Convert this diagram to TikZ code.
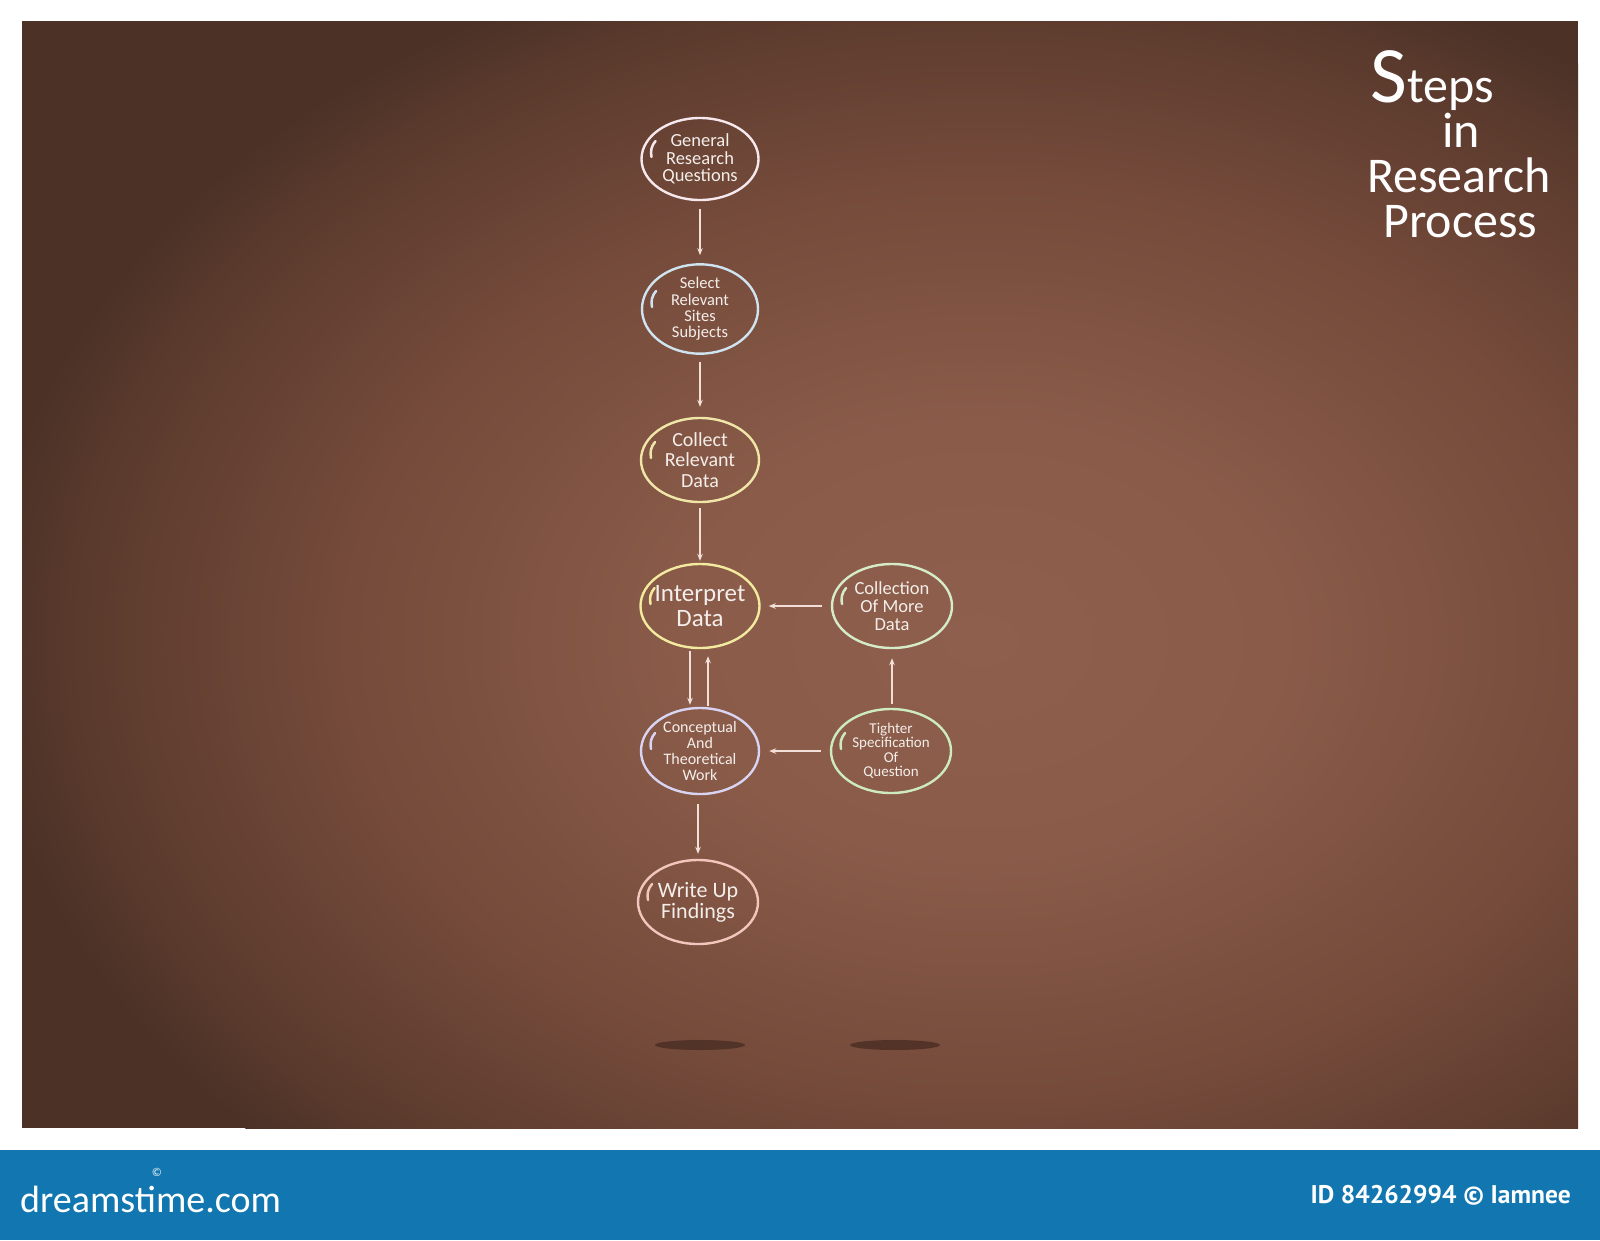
\documentclass[tikz,border=0pt]{standalone}
\usepackage{fontspec}
\setmainfont{Carlito}
\newfontfamily\footfont{PT Sans}
\usetikzlibrary{shapes.geometric,arrows.meta}
\definecolor{bcA}{HTML}{8E5F4C}
\definecolor{bcA2}{HTML}{8A5B49}
\definecolor{bcB}{HTML}{744A3A}
\definecolor{bcB2}{HTML}{5A3A2D}
\definecolor{bcC}{HTML}{4B3126}
\definecolor{txt}{HTML}{F4EEEA}
\definecolor{arrc}{HTML}{F2E0D8}
\definecolor{cGRQ}{HTML}{F6E8EC}
\definecolor{cSEL}{HTML}{CFE4F0}
\definecolor{cCOL}{HTML}{EFE6A8}
\definecolor{cINT}{HTML}{F2EA9E}
\definecolor{cMORE}{HTML}{D6ECC8}
\definecolor{cCON}{HTML}{D8D4F2}
\definecolor{cTIG}{HTML}{CDEBBE}
\definecolor{cWRI}{HTML}{F2C6BC}
\definecolor{footblue}{HTML}{1277B0}
\definecolor{shad}{HTML}{4A2D23}
\pgfdeclareradialshading{boardshade}{\pgfpoint{0bp}{0bp}}{color(0bp)=(bcA); color(7.5bp)=(bcA2); color(16.25bp)=(bcB); color(22.5bp)=(bcB2); color(25bp)=(bcC); color(50bp)=(bcC)}
\tikzset{
  bub/.style={ellipse, draw=#1, line width=2.4pt, text=txt, align=center,
    inner sep=0pt, minimum width=118pt, minimum height=84pt,
    path picture={\draw[#1, line width=2.5pt, line cap=round]
      ([xshift=14pt,yshift=18pt]path picture bounding box.west)
      to[bend right=25] ([xshift=10pt,yshift=2pt]path picture bounding box.west);}},
  arr/.style={draw=arrc, line width=1.3pt, -{Stealth[length=7pt,width=5.5pt]}},
  ttl/.style={text=white, anchor=base west, inner sep=0pt, font=\fontsize{50}{50}\selectfont},
}
\begin{document}
\begin{tikzpicture}[x=1pt,y=-1pt]
\useasboundingbox (0,0) rectangle (1600,1240);
\fill[white] (0,0) rectangle (1600,1240);
% board
\fill[bcC] (22,21) rectangle (1578,1128);
\begin{scope}
  \clip (22,21) rectangle (1578,1128);
  \shade[shading=boardshade] (980,640) ellipse [x radius=1000, y radius=720];
\end{scope}
% footer
\fill[footblue] (0,1150) rectangle (1600,1240);
\node[text=white, anchor=base west, inner sep=0pt, font=\fontsize{38}{38}\selectfont] (logo) at (20,1212) {dreamstime.com};
\node[text=white, inner sep=0pt, font=\fontsize{12}{12}\selectfont] (logoc) at (157,1172) {©};
\node[text=white, anchor=base east, inner sep=0pt, font=\footfont\bfseries\fontsize{25.5}{25.5}\selectfont] (idtxt) at (1571,1203) {ID 84262994 © Iamnee};
% shadows
\fill[shad, opacity=0.8] (700,1045) ellipse [x radius=45, y radius=5];
\fill[shad, opacity=0.8] (895,1045) ellipse [x radius=45, y radius=5];
% title
\node[ttl, font=\fontsize{80}{80}\selectfont] (tS) at (1370,102) {S};
\node[ttl] (tteps) at (tS.base east) {teps};
\node[ttl] (tin) at (1442,147) {in};
\node[ttl] (tres) at (1367,192) {Research};
\node[ttl] (tproc) at (1383,237) {Process};
% nodes
\node[bub=cGRQ, font=\fontsize{18.5}{17.5}\selectfont, minimum width=117pt, minimum height=82pt] (grq) at (700,159) {General\\Research\\Questions};
\node[bub=cSEL, font=\fontsize{16.5}{16.3}\selectfont, minimum width=116pt, minimum height=82pt] (sel) at (700,309) {Select\\Relevant\\Sites\\Subjects};
\node[bub=cCOL, font=\fontsize{20}{20.4}\selectfont] (coll) at (700,460) {Collect\\Relevant\\Data};
\node[bub=cINT, font=\fontsize{25}{25.5}\selectfont, minimum width=119pt, inner xsep=-8pt] (interp) at (700,606) {Interpret\\Data};
\node[bub=cMORE, font=\fontsize{18.5}{18}\selectfont, minimum width=120pt] (more) at (892,606) {Collection\\Of More\\Data};
\node[bub=cCON, font=\fontsize{16}{16}\selectfont, minimum height=86pt] (conc) at (700,751) {Conceptual\\And\\Theoretical\\Work};
\node[bub=cTIG, font=\fontsize{15}{14.5}\selectfont, minimum width=120pt] (tig) at (891,751) {Tighter\\Specification\\Of\\Question};
\node[bub=cWRI, font=\fontsize{22}{21}\selectfont, minimum width=120pt] (wri) at (698,902) {Write Up\\Findings};
% connectors
\draw[arr, shorten <=8pt, shorten >=8pt] (grq) -- (sel);
\draw[arr, shorten <=7pt, shorten >=10pt] (sel) -- (coll);
\draw[arr, shorten <=5pt, shorten >=2pt] (coll) -- (interp);
\draw[arr, shorten <=2pt, shorten >=2pt] ([xshift=-10pt]interp.south) -- ([xshift=-10pt]conc.north);
\draw[arr, shorten <=1pt, shorten >=7pt] ([xshift=8pt]conc.north) -- ([xshift=8pt]interp.south);
\draw[arr, shorten <=9pt, shorten >=8pt] (more) -- (interp);
\draw[arr, shorten <=9pt, shorten >=9pt] (tig) -- (conc);
\draw[arr, shorten <=4pt, shorten >=9pt] ([xshift=1pt]tig.north) -- (more.south);
\draw[arr, shorten <=9pt, shorten >=5pt] ([xshift=-2pt]conc.south) -- (wri.north);
\end{tikzpicture}
\end{document}
